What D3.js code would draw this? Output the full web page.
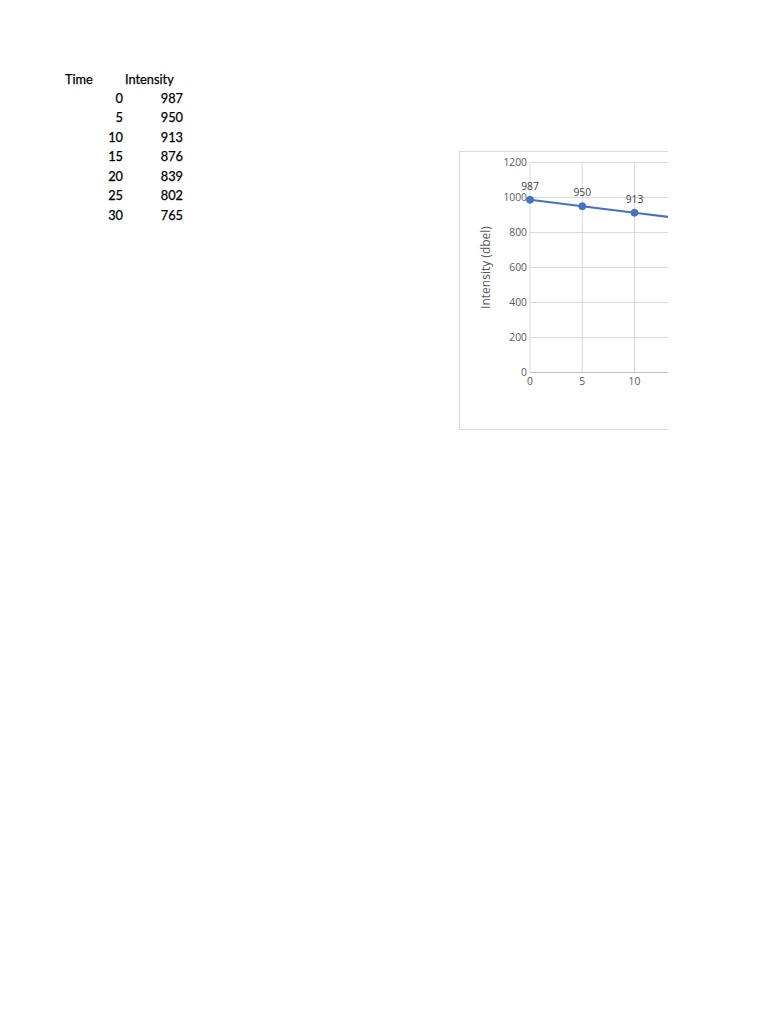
<!DOCTYPE html>
<html><head><meta charset="utf-8">
<script src="https://cdn.jsdelivr.net/npm/d3@7"></script>
<style>html,body{margin:0;padding:0;background:#fff;}svg{display:block;}</style>
</head><body>
<script>
const times = [0, 5, 10, 15, 20, 25, 30];
const intensity = [987, 950, 913, 876, 839, 802, 765];
const headers = ["Time", "Intensity"];
const yTicks = [0, 200, 400, 600, 800, 1000, 1200];
const xTicks = [0, 5, 10, 15, 20, 25, 30, 35];
const yTitle = "Intensity (dbel)";

const svg = d3.select("body").append("svg").attr("width", 768).attr("height", 1024);
svg.append("rect").attr("width", 768).attr("height", 1024).attr("fill", "#fff");

// ---- table ----
const tf = "Lato, 'Open Sans', sans-serif";
const tfs = 12.8;
const rowY = d3.scaleLinear().domain([0, 6]).range([103, 219.5]);
function cell(g, xx, yy, txt, anchor) {
  g.append("text").attr("x", xx).attr("y", yy).attr("text-anchor", anchor)
    .attr("font-family", tf).attr("font-size", tfs).attr("fill", "#000")
    .attr("stroke", "#000").attr("stroke-width", 0.25).text(txt);
}
const tbl = svg.append("g");
cell(tbl, 65, 84, headers[0], "start");
cell(tbl, 125, 84, headers[1], "start");
times.forEach((t, i) => {
  cell(tbl, 123, rowY(i), t, "end");
  cell(tbl, 183, rowY(i), intensity[i], "end");
});

// ---- chart (clipped at page edge) ----
const clipX = 668;
svg.append("defs").append("clipPath").attr("id", "clip")
  .append("rect").attr("x", 0).attr("y", 0).attr("width", clipX).attr("height", 1024);
const chart = svg.append("g").attr("clip-path", "url(#clip)");

chart.append("rect").attr("x", 459.5).attr("y", 151.5).attr("width", 420).attr("height", 278)
  .attr("fill", "#fff").attr("stroke", "#d9d9d9").attr("stroke-width", 1);

const x = d3.scaleLinear().domain([0, 35]).range([530, 530 + 35 * 10.45]);
const y = d3.scaleLinear().domain([0, 1200]).range([372.5, 162.5]);
const cf = "'Open Sans', sans-serif";
const visible = v => x(v) < clipX - 12;

// gridlines
chart.append("g").selectAll("line").data(yTicks.filter(d => d > 0)).join("line")
  .attr("x1", x(0)).attr("x2", x(35)).attr("y1", d => y(d)).attr("y2", d => y(d))
  .attr("stroke", "#d9d9d9").attr("stroke-width", 1);
chart.append("g").selectAll("line").data(xTicks).join("line")
  .attr("x1", d => x(d)).attr("x2", d => x(d)).attr("y1", y(0)).attr("y2", y(1200))
  .attr("stroke", "#d9d9d9").attr("stroke-width", 1);
// x axis line
chart.append("line").attr("x1", x(0)).attr("x2", x(35)).attr("y1", y(0)).attr("y2", y(0))
  .attr("stroke", "#bfbfbf").attr("stroke-width", 1);

// tick labels
chart.append("g").selectAll("text").data(yTicks).join("text")
  .attr("x", 527).attr("y", d => y(d) + 3.8).attr("text-anchor", "end")
  .attr("font-family", cf).attr("font-size", 10.3).attr("fill", "#595959").text(d => d);
chart.append("g").selectAll("text").data(xTicks.filter(visible)).join("text")
  .attr("x", d => x(d)).attr("y", 385).attr("text-anchor", "middle")
  .attr("font-family", cf).attr("font-size", 10.3).attr("fill", "#595959").text(d => d);

// y title
chart.append("text").attr("transform", `translate(490,${(y(0) + y(1200)) / 2}) rotate(-90)`)
  .attr("text-anchor", "middle").attr("font-family", cf).attr("font-size", 12)
  .attr("fill", "#595959").text(yTitle);

// line + markers
const data = times.map((t, i) => ({t, v: intensity[i]}));
chart.append("path").datum(data)
  .attr("d", d3.line().x(d => x(d.t)).y(d => y(d.v)))
  .attr("fill", "none").attr("stroke", "#4472c4").attr("stroke-width", 2);
chart.append("g").selectAll("circle").data(data).join("circle")
  .attr("cx", d => x(d.t)).attr("cy", d => y(d.v)).attr("r", 3.5)
  .attr("fill", "#4472c4").attr("stroke", "#4472c4");
chart.append("g").selectAll("text").data(data.filter(d => visible(d.t))).join("text")
  .attr("x", d => x(d.t)).attr("y", d => y(d.v) - 10).attr("text-anchor", "middle")
  .attr("font-family", cf).attr("font-size", 10.3).attr("fill", "#404040").text(d => d.v);
</script>
</body></html>
